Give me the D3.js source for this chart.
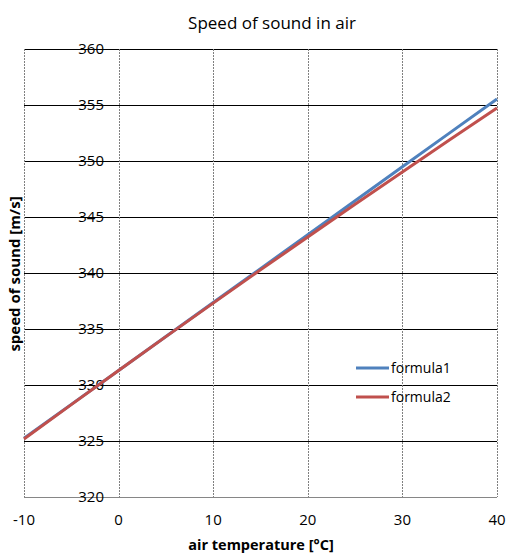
<!DOCTYPE html>
<html>
<head>
<meta charset="utf-8">
<script src="https://cdn.jsdelivr.net/npm/d3@7"></script>
<style>
  body { margin: 0; background: #fff; }
  text { font-family: "Open Sans", "Liberation Sans", sans-serif; }
</style>
</head>
<body>
<div id="chart"></div>
<script>
// temperatures in °C
var temps = [-10, -5, 0, 5, 10, 15, 20, 25, 30, 35, 40];
// speed of sound [m/s]
var formula1 = [325.24, 328.27, 331.30, 334.33, 337.36, 340.39, 343.42, 346.45, 349.48, 352.51, 355.54];
var formula2 = [325.18, 328.25, 331.30, 334.32, 337.31, 340.28, 343.21, 346.13, 349.02, 351.89, 354.73];
var seriesNames = ["formula1", "formula2"];
var xTicks = [-10, 0, 10, 20, 30, 40];
var yTicks = [320, 325, 330, 335, 340, 345, 350, 355, 360];

var W = 515, H = 560;
var margin = {top: 49, right: 18, bottom: 63, left: 24},
    width = W - margin.left - margin.right,
    height = H - margin.top - margin.bottom;

var svg = d3.select("#chart")
  .append("svg")
    .attr("width", W)
    .attr("height", H);

var g = svg.append("g")
    .attr("transform", "translate(" + margin.left + "," + margin.top + ")");

var x = d3.scaleLinear().domain([-10, 40]).range([0, width]);
var y = d3.scaleLinear().domain([320, 360]).range([height, 0]);

// horizontal gridlines (solid black)
g.selectAll(".hgrid")
  .data(yTicks.filter(function(d) { return d > 320; }))
  .enter().append("line")
    .attr("x1", 0).attr("x2", width)
    .attr("y1", function(d) { return Math.round(y(d)) + 0.5; })
    .attr("y2", function(d) { return Math.round(y(d)) + 0.5; })
    .attr("stroke", "#000")
    .attr("stroke-width", 1)
    .attr("shape-rendering", "crispEdges");

// vertical gridlines + frame (grey, finely dotted)
g.selectAll(".vgrid")
  .data(xTicks)
  .enter().append("line")
    .attr("x1", function(d) { return Math.round(x(d)) + 0.5; })
    .attr("x2", function(d) { return Math.round(x(d)) + 0.5; })
    .attr("y1", 0).attr("y2", height)
    .attr("stroke", "#808080")
    .attr("stroke-width", 1)
    .attr("stroke-dasharray", "2,1")
    .attr("shape-rendering", "crispEdges");

g.append("line")
  .attr("x1", 0).attr("x2", width)
  .attr("y1", Math.round(height) + 0.5).attr("y2", Math.round(height) + 0.5)
  .attr("stroke", "#868686")
  .attr("stroke-width", 1)
  .attr("shape-rendering", "crispEdges");

// y tick labels (sit inside the plot, right-aligned near x=104)
g.selectAll(".ylab")
  .data(yTicks)
  .enter().append("text")
    .attr("x", 104 - margin.left)
    .attr("y", function(d) { return y(d); })
    .attr("dy", "0.36em")
    .attr("text-anchor", "end")
    .attr("font-size", 15)
    .attr("fill", "#000")
    .text(function(d) { return d; });

// x tick labels
g.selectAll(".xlab")
  .data(xTicks)
  .enter().append("text")
    .attr("x", function(d) { return x(d); })
    .attr("y", height + 23)
    .attr("dy", "0.36em")
    .attr("text-anchor", "middle")
    .attr("font-size", 15)
    .attr("fill", "#000")
    .text(function(d) { return d; });

// lines
var colors = ["#4F81BD", "#C0504D"];
var series = [formula1, formula2];
var line = d3.line()
  .x(function(d, i) { return x(temps[i]); })
  .y(function(d) { return y(d); });

series.forEach(function(s, i) {
  g.append("path")
    .datum(s)
    .attr("fill", "none")
    .attr("stroke", colors[i])
    .attr("stroke-width", 3)
    .attr("d", line);
});

// legend
var legend = svg.append("g").attr("transform", "translate(356,368)");
seriesNames.forEach(function(name, i) {
  legend.append("line")
    .attr("x1", 0).attr("x2", 33)
    .attr("y1", i * 29).attr("y2", i * 29)
    .attr("stroke", colors[i])
    .attr("stroke-width", 3);
  legend.append("text")
    .attr("x", 35)
    .attr("y", i * 29)
    .attr("dy", "0.36em")
    .attr("font-size", 14)
    .attr("fill", "#000")
    .text(name);
});

// title
svg.append("text")
  .attr("x", 272)
  .attr("y", 29)
  .attr("text-anchor", "middle")
  .attr("font-size", 17)
  .attr("fill", "#000")
  .text("Speed of sound in air");

// axis titles
svg.append("text")
  .attr("x", 261)
  .attr("y", 550)
  .attr("text-anchor", "middle")
  .attr("font-size", 14.5)
  .attr("font-weight", "bold")
  .attr("fill", "#000")
  .text("air temperature [°C]");

svg.append("text")
  .attr("transform", "translate(20,274) rotate(-90)")
  .attr("text-anchor", "middle")
  .attr("font-size", 15)
  .attr("font-weight", "bold")
  .attr("fill", "#000")
  .text("speed of sound [m/s]");
</script>
</body>
</html>
